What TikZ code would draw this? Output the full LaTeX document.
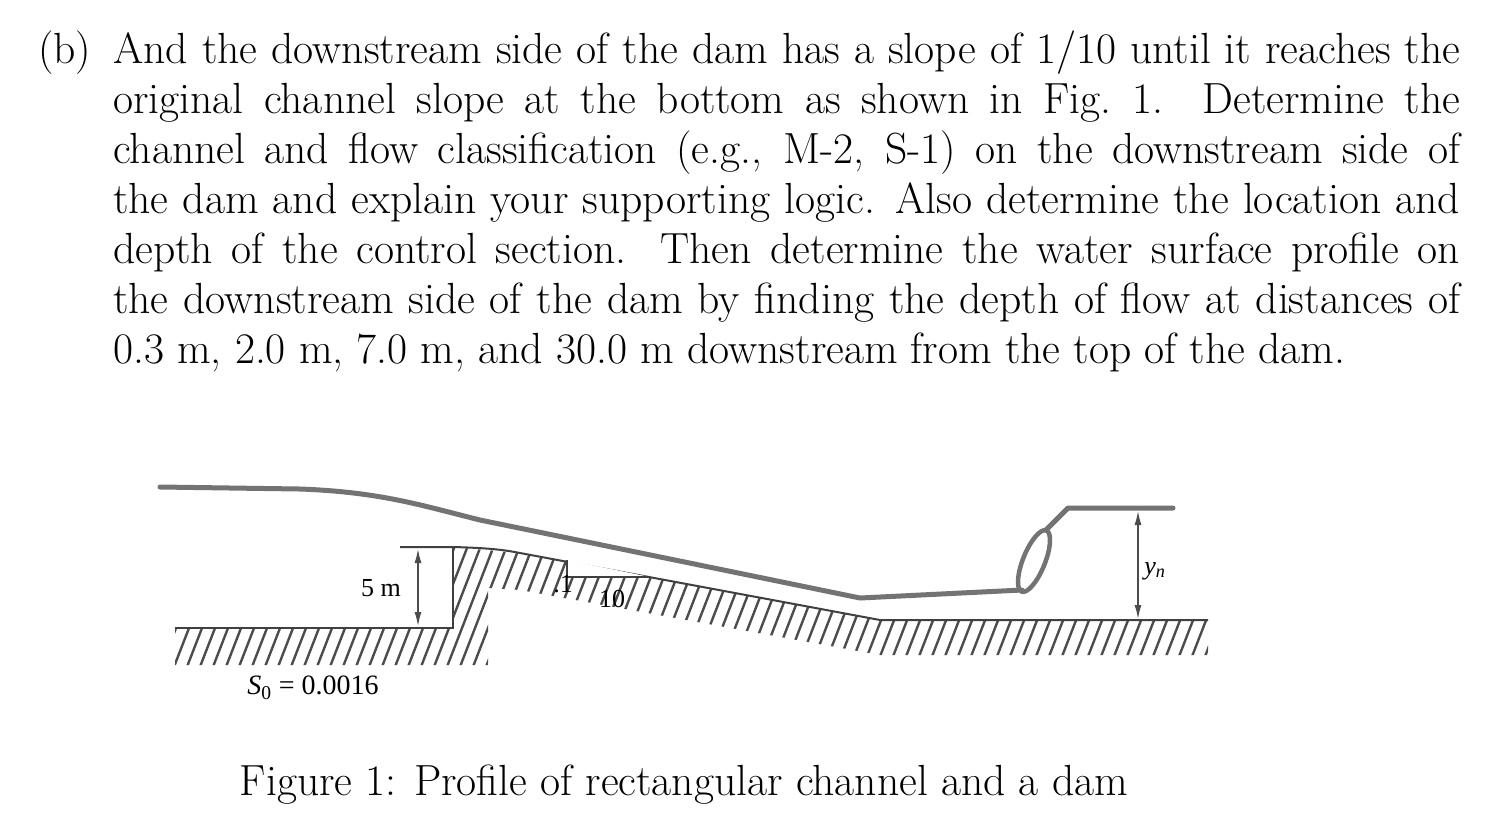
\documentclass[tikz,border=0pt]{standalone}
\usepackage{fontspec}
\usetikzlibrary{arrows.meta}
\newfontfamily\figsans{Liberation Serif}
\begin{document}
\begin{tikzpicture}[x=1pt,y=-1pt,
  water/.style={line width=5pt,color=black!55,line cap=round,line join=round},
  bed/.style={line width=2pt,color=black!75},
  hatch/.style={line width=2.4pt,color=black!70},
  dim/.style={line width=1.4pt,color=black!70,<->,>={Latex[length=14pt,width=7pt]}},
  lab/.style={font=\figsans\fontsize{26}{28}\selectfont,inner sep=0pt}]
\useasboundingbox (0,0) rectangle (1496,823);
% text
\node[anchor=base west,inner sep=0pt,font=\fontsize{43.6}{50}\selectfont] (pb) at (38,63) {(b)};
\node[anchor=base west,inner sep=0pt,font=\fontsize{43.6}{50}\selectfont,text width=1347pt,align=justify] (q) at (113,63) {And the downstream side of the dam has a slope of 1/10 until it reaches the\linebreak
original channel slope at the bottom as shown in Fig.~1. Determine the\linebreak
channel and flow classification (e.g., M-2, S-1) on the downstream side of\linebreak
the dam and explain your supporting logic. Also determine the location and\linebreak
depth of the control section. Then determine the water surface profile on\linebreak
the downstream side of the dam by finding the depth of flow at distances of\linebreak
0.3 m, 2.0 m, 7.0 m, and 30.0 m downstream from the top of the dam.};
\node[anchor=base,inner sep=0pt,font=\fontsize{43.6}{50}\selectfont] (cap) at (684,795) {Figure 1: Profile of rectangular channel and a dam};
% hatching
\begin{scope}
\clip (175,628) -- (453,628) -- (453,547) -- (520,553) -- (880,620) -- (1208,620) -- (1208,655) -- (880,655) -- (520,590) -- (488,588) -- (488,665) -- (175,665) -- cycle;
\foreach \i in {100,113,...,1300} \draw[hatch] (\i,690) -- (\i+62,530);
\end{scope}
% bed lines
\draw[bed] (175,628) -- (453,628) -- (453,547);
\draw[bed] (400,547) -- (453,547) .. controls (490,548) and (505,550) .. (520,553) -- (880,620) -- (1208,620);
\coordinate (t1) at (567,560); \coordinate (t2) at (567,577); \coordinate (t3) at (650,577);
\fill[white] (t1) -- (t2) -- (t3) -- cycle;
\draw[line width=1.5pt,black!75] (t1) -- (t2) -- (t3);
\node[lab] (one) at (563,584) {.1};
\node[lab] (ten) at (612,599) {10};
% water surface
\draw[water] (160,487) -- (300,489) .. controls (380,492) and (420,505) .. (480,520) -- (860,598) -- (1022,590);
\draw[water,line width=4.5pt] (1034,561) ellipse [x radius=33, y radius=11, rotate=68];
\draw[water] (1046,530) -- (1068,508) -- (1173,508);
% dimensions
\coordinate (a1) at (418,549); \coordinate (a2) at (418,626);
\draw[dim] (a1) -- (a2);
\node[lab] (fm) at (381,588) {5 m};
\coordinate (b1) at (1138,511); \coordinate (b2) at (1138,619);
\draw[dim] (b1) -- (b2);
\node[lab,font=\figsans\itshape\fontsize{26}{28}\selectfont] (yn) at (1155,571) {y\textsubscript{n}};
\node[lab,font=\figsans\fontsize{28}{30}\selectfont] (so) at (313,688) {\textit{S}\textsubscript{0} = 0.0016};
\end{tikzpicture}
\end{document}
